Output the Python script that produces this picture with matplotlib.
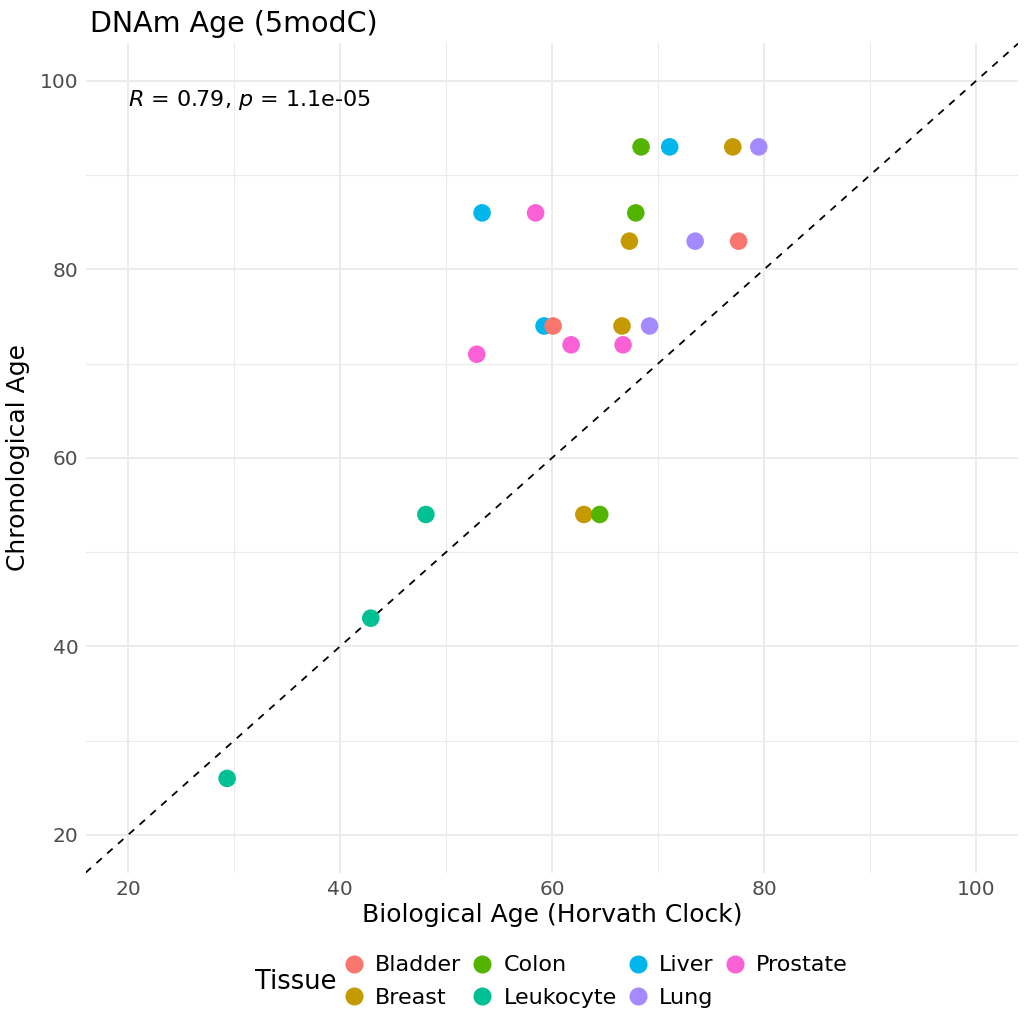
import matplotlib.pyplot as plt
from matplotlib.lines import Line2D

tissues = ["Bladder", "Breast", "Colon", "Leukocyte", "Liver", "Lung", "Prostate"]
tissue_colors = ["#F8766D", "#C49A00", "#53B400", "#00C094", "#00B6EB", "#A58AFF", "#FB61D7"]

# one row per sample
sample_tissue = [
    "Leukocyte", "Leukocyte", "Leukocyte",
    "Breast", "Colon",
    "Liver", "Bladder", "Breast", "Lung",
    "Prostate", "Prostate", "Prostate",
    "Liver", "Prostate", "Colon",
    "Breast", "Lung", "Bladder",
    "Colon", "Liver", "Breast", "Lung",
]
bio_age = [
    29.35, 42.9, 48.1,
    63.0, 64.5,
    59.25, 60.1, 66.6, 69.2,
    52.9, 61.8, 66.7,
    53.4, 58.45, 67.9,
    67.3, 73.5, 77.6,
    68.4, 71.1, 77.05, 79.5,
]
chrono_age = [
    26, 43, 54,
    54, 54,
    74, 74, 74, 74,
    71, 72, 72,
    86, 86, 86,
    83, 83, 83,
    93, 93, 93, 93,
]

color_of = dict(zip(tissues, tissue_colors))

fig = plt.figure(figsize=(10.24, 10.24), dpi=100)
ax = fig.add_axes([0.0836, 0.1478, 0.911, 0.810])

ax.set_xlim(16, 104)
ax.set_ylim(16, 104)
ax.set_xticks([20, 40, 60, 80, 100])
ax.set_yticks([20, 40, 60, 80, 100])
ax.set_xticks([30, 50, 70, 90], minor=True)
ax.set_yticks([30, 50, 70, 90], minor=True)
ax.grid(which="major", color="#EBEBEB", lw=1.4)
ax.grid(which="minor", color="#EBEBEB", lw=0.8)
ax.set_axisbelow(True)
for s in ax.spines.values():
    s.set_visible(False)
ax.tick_params(which="both", length=0, labelsize=14.5, labelcolor="#4D4D4D", pad=5)

ax.axline((0, 0), slope=1, color="black", lw=1.3, ls=(0, (4, 4)), zorder=1)

ax.scatter(bio_age, chrono_age, c=[color_of[t] for t in sample_tissue], s=160,
           linewidths=0, zorder=3)

ax.text(20, 98, "$R$ = 0.79, $p$ = 1.1e-05", fontsize=16, va="center", ha="left")

ax.set_xlabel("Biological Age (Horvath Clock)", fontsize=18, labelpad=3)
ax.set_ylabel("Chronological Age", fontsize=18, labelpad=7)
fig.text(0.088, 0.977, "DNAm Age (5modC)", fontsize=20.5, ha="left", va="center")

handles = [Line2D([], [], marker="o", ls="", color=c, markersize=12, label=t)
           for t, c in zip(tissues, tissue_colors)]
fig.legend(handles=handles, ncol=4, loc="center left", bbox_to_anchor=(0.324, 0.0415),
           frameon=False, fontsize=16, handletextpad=0.45, columnspacing=0.45,
           labelspacing=0.56, handlelength=1.0, borderpad=0)
fig.text(0.249, 0.0415, "Tissue", fontsize=18.5, ha="left", va="center")

fig.savefig("out.png", dpi=100)
